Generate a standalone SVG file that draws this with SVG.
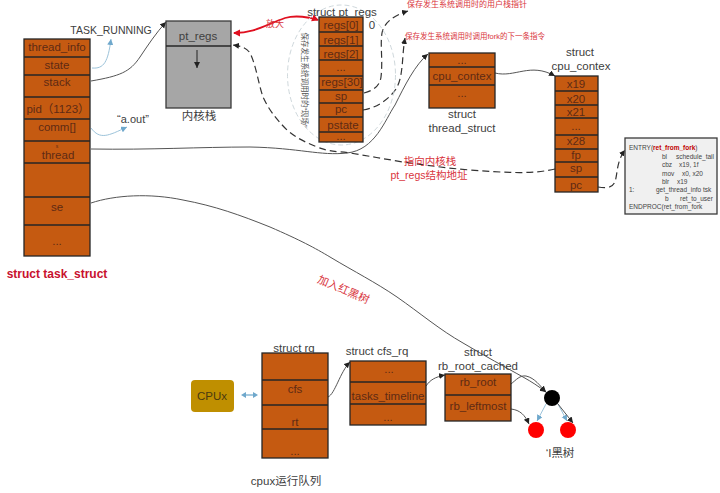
<svg xmlns="http://www.w3.org/2000/svg" width="720" height="493" viewBox="0 0 720 493">
<style>
text{font-family:"Liberation Sans","Noto Sans CJK SC",sans-serif;text-anchor:middle}
.b{fill:#c55a11;stroke:#262626;stroke-width:1.3}
.d{stroke:#262626;stroke-width:1.3;fill:none}
.t{font-size:11.5px;fill:#5e2a14}
.k{font-size:11.5px;fill:#404040}
.r{fill:#d9343c}
.c{fill:none;stroke:#555;stroke-width:1}
.dash{fill:none;stroke:#333;stroke-width:1.2;stroke-dasharray:7 4}
.blue{fill:none;stroke:#9cc3da;stroke-width:1}
.code{font-size:6.5px;fill:#444;text-anchor:start}
</style>
<defs>
<marker id="ak" markerWidth="7" markerHeight="7" refX="6" refY="3" orient="auto" markerUnits="userSpaceOnUse"><path d="M0,0L6,3L0,6z" fill="#222"/></marker>
<marker id="ab" markerWidth="7" markerHeight="7" refX="6" refY="3" orient="auto" markerUnits="userSpaceOnUse"><path d="M0,0L6,3L0,6z" fill="#6fa8cc"/></marker>
<marker id="ar" markerWidth="8" markerHeight="8" refX="6" refY="3.5" orient="auto-start-reverse" markerUnits="userSpaceOnUse"><path d="M0,0L7,3.5L0,7z" fill="#e01020"/></marker>
</defs>

<g id="connectors">
<path class="blue" marker-end="url(#ab)" d="M92,68C104,69 108,62 111,39"/>
<path class="blue" marker-end="url(#ab)" d="M91,128C100,140 108,136 127,127"/>
<path class="c" marker-end="url(#ak)" d="M91,81C120,76 130,72 140,57C148,45 156,33 166,22"/>
<path class="c" marker-end="url(#ak)" d="M91,149C150,150 200,147 250,147C300,148 320,156 347,153C375,150 385,120 395,105C405,85 415,65 428,54"/>
<path class="c" marker-end="url(#ak)" d="M91,203C115,195 150,193 183,200C215,206 240,215 270,227C300,240 315,248 330,257C355,272 375,282 397,297C420,313 440,330 463,343C485,356 505,367 523,377C532,382 538,386 546,392"/>
<path class="c" marker-end="url(#ak)" d="M495,73C515,78 530,62 555,76"/>
<path class="dash" marker-end="url(#ak)" d="M555,169C530,175 500,172 470,170C445,168 425,165 403,162C385,159 368,156 350,153C335,151 330,152 317,147C305,142 296,138 287,130C275,118 268,108 263,97C258,82 256,65 250,53C246,47 240,46 233,45"/>
<path class="dash" marker-end="url(#ak)" d="M364,93C375,90 380,85 381,77C383,60 380,45 382,33C384,22 395,15 408,11"/>
<path class="dash" marker-end="url(#ak)" d="M363,110C375,108 385,102 393,93C400,85 401,75 402,67C403,58 403,50 405,38"/>
<path class="dash" marker-end="url(#ak)" d="M598,187C625,192 610,170 625,150"/>
<path d="M318,20C310,17 295,15 285,18C265,25 255,33 234,33" fill="none" stroke="#e01020" stroke-width="1.8" marker-start="url(#ar)" marker-end="url(#ar)"/>
<path class="c" marker-end="url(#ak)" d="M328,397C335,394 340,372 350,362"/>
<path class="c" marker-end="url(#ak)" d="M426,386C430,380 435,377 445,375"/>
<path class="c" marker-end="url(#ak)" d="M511,384C516,380 520,375 526,376C535,378 540,386 546,392"/>
<path class="c" marker-end="url(#ak)" d="M511,409C520,410 525,415 529,424"/>
<path class="blue" marker-end="url(#ab)" d="M546,404L537,421"/>
<path class="blue" marker-end="url(#ab)" d="M558,404L567,421"/>
<path class="c" marker-end="url(#ak)" d="M558,404L573,423"/>
<path fill="none" stroke="#6fa8cc" stroke-width="1.2" d="M243,395H256"/>
<path fill="#6fa8cc" d="M241,395l5,-3v6zM258,395l-5,-3v6z"/>
</g>

<g id="task_struct">
<rect class="b" x="24" y="39" width="66" height="217"/>
<path class="d" d="M24,57H90M24,75H90M24,97H90M24,119H90M24,141H90M24,163H90M24,197H90M24,225H90"/>
<text class="t" x="57" y="51">thread_info</text>
<text class="t" x="57" y="69">state</text>
<text class="t" x="57" y="86">stack</text>
<text class="t" x="58" y="113">pid（1123）</text>
<text class="t" x="57" y="131">comm[]</text>
<text class="t" x="57" y="148" style="font-size:5px">s</text>
<text class="t" x="58" y="159">thread</text>
<text class="t" x="57" y="211">se</text>
<text class="t" x="57" y="245">...</text>
<text x="57" y="278" font-size="12" font-weight="bold" fill="#c8102e">struct task_struct</text>
</g>
<g id="task_running"><text class="k" x="111" y="34" style="font-size:10.5px">TASK_RUNNING</text></g>
<g id="a_out"><text class="k" x="133" y="123" style="font-size:11px">“a.out”</text></g>

<g id="kernel_stack">
<rect x="166" y="21" width="65" height="87" fill="#a6a6a6" stroke="#3a3a3a" stroke-width="1.3"/>
<path class="d" d="M166,46H231"/>
<text class="k" x="198" y="40">pt_regs</text>
<path d="M197,50V68" stroke="#222" fill="none" marker-end="url(#ak)"/>
<text class="k" x="199" y="120">内核栈</text>
</g>

<g id="pt_regs">
<ellipse cx="341.500" cy="75" rx="54" ry="70" fill="none" stroke="#cfd8dc" stroke-dasharray="5 3"/>
<rect class="b" x="319" y="17" width="44" height="125"/>
<path class="d" d="M319,32H363M319,46H363M319,60H363M319,76H363M319,90H363M319,103H363M319,117H363M319,132H363"/>
<text class="k" x="342" y="16">struct pt_regs</text>
<text class="t" x="341" y="29">regs[0]</text>
<text class="t" x="341" y="44">regs[1]</text>
<text class="t" x="341" y="58">regs[2]</text>
<text class="t" x="341" y="71">...</text>
<text class="t" x="342" y="86">regs[30]</text>
<text class="t" x="341" y="100">sp</text>
<text class="t" x="341" y="113">pc</text>
<text class="t" x="343" y="129">pstate</text>
<text class="t" x="341" y="140">...</text>
<text class="k" x="372" y="29">0</text>
<text transform="translate(302,80) rotate(90)" font-size="7.500" fill="#555">保存发生系统调用时的“现场”</text>
</g>

<g id="thread_struct">
<rect class="b" x="429" y="53" width="66" height="55"/>
<path class="d" d="M429,67H495M429,85H495"/>
<text class="t" x="462" y="64">...</text>
<text class="t" x="462" y="80">cpu_contex</text>
<text class="t" x="462" y="97">...</text>
<text class="k" x="462" y="118">struct</text>
<text class="k" x="462" y="132">thread_struct</text>
</g>

<g id="cpu_contex">
<rect class="b" x="555" y="76" width="43" height="116"/>
<path class="d" d="M555,91H598M555,105H598M555,118H598M555,135H598M555,149H598M555,162H598M555,177H598"/>
<text class="k" x="580" y="56">struct</text>
<text class="k" x="581" y="70">cpu_contex</text>
<text class="t" x="576" y="88">x19</text>
<text class="t" x="576" y="103">x20</text>
<text class="t" x="576" y="116">x21</text>
<text class="t" x="576" y="130">...</text>
<text class="t" x="576" y="145">x28</text>
<text class="t" x="576" y="159">fp</text>
<text class="t" x="576" y="172">sp</text>
<text class="t" x="576" y="189">pc</text>
</g>

<g id="ret_from_fork">
<rect x="625" y="138" width="92" height="76" fill="#f0f0f0" stroke="#3a3a3a" stroke-width="1.3"/>
<text class="code" x="629" y="150">ENTRY(<tspan fill="#c00000" font-weight="bold">ret_from_fork</tspan>)</text>
<text class="code" x="662" y="159">bl</text><text class="code" x="676" y="159">schedule_tail</text>
<text class="code" x="662" y="167">cbz</text><text class="code" x="679" y="167">x19, 1f</text>
<text class="code" x="662" y="176">mov</text><text class="code" x="682" y="176">x0, x20</text>
<text class="code" x="662" y="184">blr</text><text class="code" x="677" y="184">x19</text>
<text class="code" x="629" y="192">1:</text><text class="code" x="656" y="192">get_thread_info tsk</text>
<text class="code" x="665" y="201">b</text><text class="code" x="680" y="201">ret_to_user</text>
<text class="code" x="629" y="209">ENDPROC(ret_from_fork</text>
</g>

<g id="notes">
<text class="r" x="275" y="27" font-size="9">放大</text>
<text class="r" x="467" y="7" font-size="8">保存发生系统调用时的用户栈指针</text>
<text class="r" x="475" y="39" font-size="7.500">保存发生系统调用时调用fork的下一条指令</text>
<text class="r" x="430" y="165" font-size="10.500">指向内核栈</text>
<text class="r" x="429" y="179" font-size="10.500">pt_regs结构地址</text>
<text class="r" font-size="11" transform="translate(342,293) rotate(23)">加入红黑树</text>
</g>

<g id="cpux">
<rect x="191" y="380" width="43" height="32" rx="4" fill="#bf8f00"/>
<text x="212" y="400" font-size="11.500" fill="#4a3a10">CPUx</text>
</g>

<g id="rq">
<rect class="b" x="262" y="353" width="66" height="105"/>
<path class="d" d="M262,380H328M262,405H328M262,429H328"/>
<text class="k" x="294" y="352">struct rq</text>
<text class="t" x="295" y="393">cfs</text>
<text class="t" x="295" y="426">rt</text>
<text class="t" x="295" y="455">...</text>
<text class="k" x="286" y="485">cpux运行队列</text>
</g>

<g id="cfs_rq">
<rect class="b" x="350" y="361" width="76" height="64"/>
<path class="d" d="M350,382H426M350,404H426"/>
<text class="k" x="377" y="355">struct cfs_rq</text>
<text class="t" x="389" y="373">...</text>
<text class="t" x="388" y="400">tasks_timeline</text>
<text class="t" x="388" y="421">...</text>
</g>

<g id="rb_root_cached">
<rect class="b" x="445" y="374" width="66" height="47"/>
<path class="d" d="M445,395H511"/>
<text class="k" x="478" y="356">struct</text>
<text class="k" x="478" y="370">rb_root_cached</text>
<text class="t" x="478" y="386">rb_root</text>
<text class="t" x="478" y="410">rb_leftmost</text>
</g>

<g id="rbtree">
<circle cx="552" cy="398" r="8" fill="#000"/>
<circle cx="536" cy="430" r="8" fill="#ff0000"/>
<circle cx="568" cy="430" r="8" fill="#ff0000"/>
<text class="k" x="560" y="457">‘I黑树</text>
</g>
</svg>
